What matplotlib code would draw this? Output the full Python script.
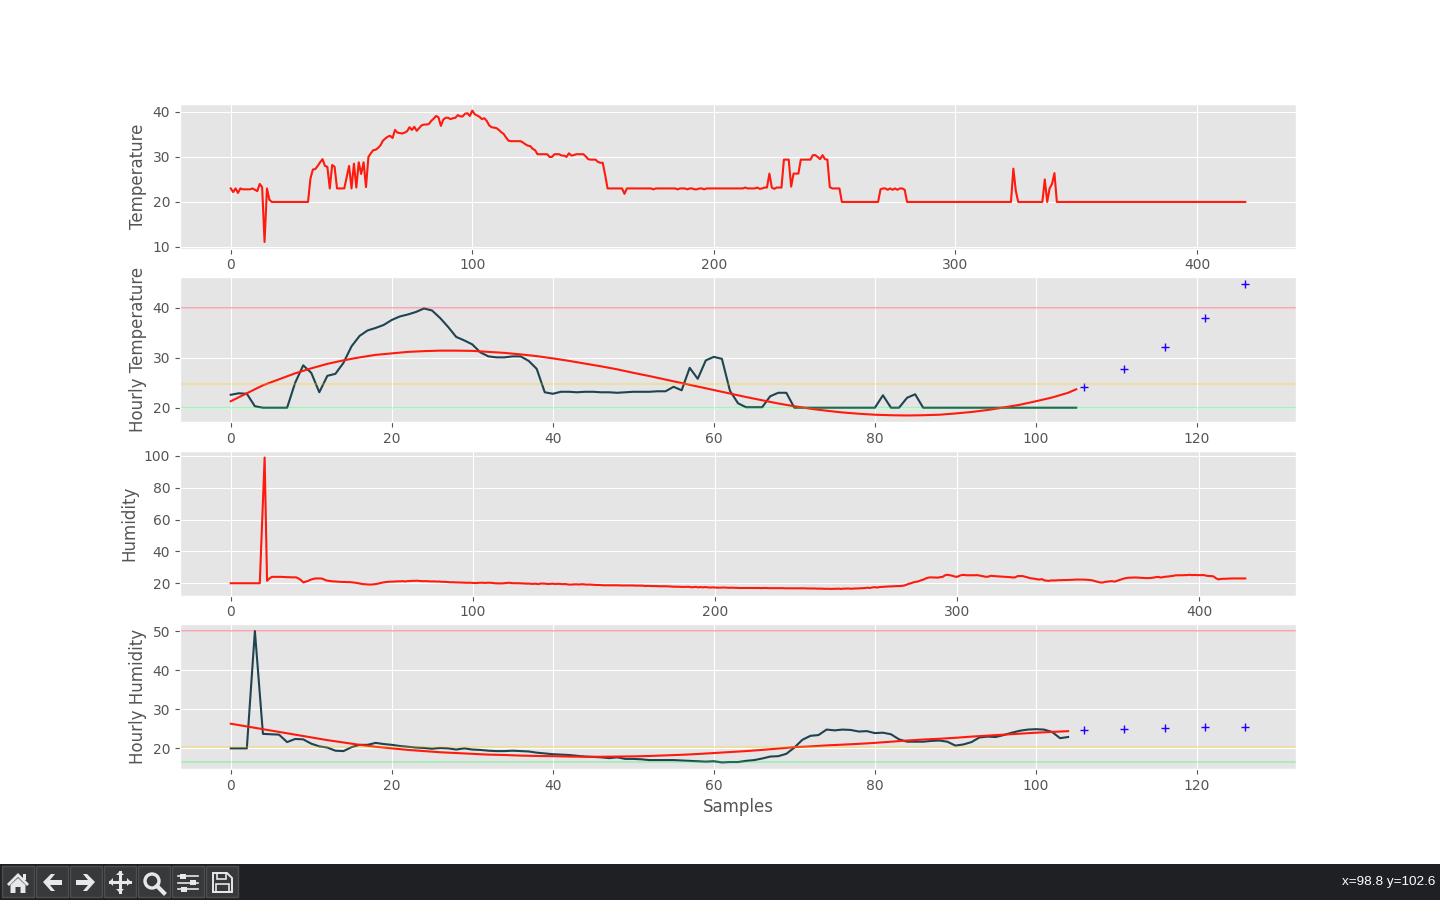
import matplotlib
matplotlib.use("Agg")
import matplotlib.pyplot as plt
from matplotlib.patches import Circle, Polygon, Rectangle

# data
temperature = [
    23,22.2,23,22,23,22.8,22.8,22.8,22.8,23,
    22.7,22.4,24,23.3,11.1,23,20.5,20,20,20,
    20,20,20,20,20,20,20,20,20,20,
    20,20,20,25.2,27.2,27.3,28,28.8,29.5,28,
    27.8,23,28.2,27.8,23,23,23,23,25.5,28,
    23,28.5,23.2,28.8,26.2,28.8,23.3,30,30.8,31.5,
    31.6,32,32.6,33.6,34.1,34.5,34.7,34.2,36,35.4,
    35.3,35.2,35.4,35.7,36.6,36,36.7,35.8,36.4,37,
    37.2,37.2,37.3,38,38.5,39.1,38.8,36.9,38.3,38.7,
    38.7,38.4,38.6,38.7,39.3,39,39,39.6,39.7,39.1,
    40.3,39.5,39.2,38.9,38.4,38.6,38,37,36.6,36.5,
    36.4,36,35.5,35.1,34.3,33.6,33.5,33.5,33.5,33.5,
    33.5,33.2,32.8,32.5,32.4,31.8,31.5,30.6,30.6,30.6,
    30.6,30.6,30,30,30.6,30.6,30.6,30.3,30.3,30,
    30.8,30.3,30.4,30.6,30.6,30.6,30.6,30.1,29.5,29.4,
    29.4,29.4,28.9,28.7,28.7,26,23,23,23,23,
    23,23,23,21.8,23,23,23,23,23,23,
    23,23,23,23,23,22.8,23,23,23,23,
    23,23,23,23,23,22.8,23,23,23,22.8,
    23,23,22.8,22.8,23,23,22.8,23,23,23,
    23,23,23,23,23,23,23,23,23,23,
    23,23,23,23.2,23,23,23,23,23.2,22.9,
    23,23.2,23.2,26.3,23.2,22.9,23.2,23.2,23.2,29.4,
    29.4,29.4,23.4,26.3,26.3,26.3,29.4,29.4,29.4,29.4,
    29.4,30.4,30.4,30,29.5,30.4,29.5,29.4,23.3,23,
    23,23,23,20,20,20,20,20,20,20,
    20,20,20,20,20,20,20,20,20,22.8,
    23,23,22.7,23,22.7,23,22.7,23,23,22.7,
    20,20,20,20,20,20,20,20,20,20,
    20,20,20,20,20,20,20,20,20,20,
    20,20,20,20,20,20,20,20,20,20,
    20,20,20,20,20,20,20,20,20,20,
    20,20,20,20,27.4,22.5,20,20,20,20,
    20,20,20,20,20,20,20,25,20,23,
    24,26.4,20,20,20,20,20,20,20,20,
    20,20,20,20,20,20,20,20,20,20,
    20,20,20,20,20,20,20,20,20,20,
    20,20,20,20,20,20,20,20,20,20,
    20,20,20,20,20,20,20,20,20,20,
    20,20,20,20,20,20,20,20,20,20,
    20,20,20,20,20,20,20,20,20,20,
    20,20,20,20,20,20,20,20,20,20,
    20,
]

humidity = [
    20,20,20,20,20,20,20,20,20,20,
    20,20,20,60,99,21.5,23,24,24,24,
    24,24,23.9,23.8,23.8,23.7,23.7,23.7,23,22,
    20.5,21,21.5,22.2,22.7,23,23,23,22.8,22,
    21.6,21.4,21.2,21.1,21,20.9,20.8,20.8,20.7,20.7,
    20.6,20.4,20.2,19.9,19.6,19.4,19.3,19.2,19.2,19.3,
    19.5,19.8,20.2,20.5,20.7,20.9,21,21,21.1,21.2,
    21.2,21.3,21.1,21.3,21.4,21.5,21.5,21.6,21.4,21.3,
    21.3,21.3,21.2,21.1,21.2,21,21.1,20.9,20.9,20.8,
    20.7,20.6,20.6,20.5,20.5,20.4,20.4,20.3,20.3,20.3,
    20.2,20.1,20.2,20.3,20.3,20.2,20.3,20.3,20.2,20,
    19.9,19.9,19.9,20,20.2,20.3,20.1,20,20,20,
    19.9,19.9,19.7,19.8,19.6,19.6,19.7,19.4,19.8,19.8,
    19.7,19.5,19.6,19.7,19.5,19.6,19.6,19.4,19.5,19.3,
    19.1,19.2,19.3,19.3,19.2,19.4,19.3,19.1,19.2,19.1,
    19,18.9,18.9,18.8,18.7,18.7,18.7,18.7,18.7,18.7,
    18.7,18.6,18.6,18.6,18.6,18.6,18.6,18.5,18.5,18.5,
    18.5,18.3,18.3,18.3,18.2,18.2,18.2,18.1,18.1,18.1,
    18.1,18,17.9,17.8,17.8,17.8,17.7,17.7,17.7,17.8,
    17.5,17.5,17.7,17.4,17.6,17.4,17.6,17.4,17.3,17.4,
    17.3,17.2,17.2,17.3,17.3,17.2,17.1,17.2,17.1,17.1,
    17,17,17,17,17,17,17,17,17,16.9,
    17,17,16.9,16.9,16.9,16.9,16.9,16.9,16.9,16.8,
    16.8,16.8,16.8,16.8,16.8,16.8,16.8,16.8,16.7,16.7,
    16.7,16.7,16.6,16.6,16.6,16.5,16.5,16.5,16.4,16.5,
    16.5,16.6,16.4,16.6,16.6,16.7,16.5,16.6,16.7,16.7,
    16.8,16.9,17,17.2,17,17.4,17.5,17.3,17.6,17.7,
    17.8,17.9,18,18,18.1,18.2,18.2,18.3,18.5,19,
    19.6,20,20.6,20.9,21.2,21.8,22.2,23,23.5,23.7,
    23.6,23.6,23.5,23.8,24,25,25.3,25,24.7,24.2,
    24,24.7,25.2,25.2,25,25,25,25,25.1,24.9,
    24.6,24.3,24,24.2,24.7,24.5,24.4,24.3,24.2,24.1,
    24,23.9,23.8,23.6,23.7,24.5,24.5,24.5,24.1,23.7,
    23.2,23,22.8,22.5,22.3,22.6,21.8,21.6,21.5,21.8,
    21.7,21.8,21.9,21.9,22,22,22.1,22.1,22.2,22.3,
    22.3,22.3,22.3,22.2,22.1,22,21.7,21.3,20.9,20.5,
    20.4,20.8,21,21.2,21.3,21,21.5,22,22.5,23,
    23.3,23.5,23.5,23.6,23.6,23.5,23.4,23.3,23.2,23.2,
    23.3,23.5,23.8,24,23.6,23.8,24.1,24.2,24.4,24.6,
    24.9,25,25,25,25.1,25.1,25.3,25.1,25.2,25.1,
    25.1,25.1,25.1,24.7,24.5,24.5,24.2,23,22.4,22.7,
    22.8,22.8,22.9,23,23,23,23,23,23,23,
]

hourly_temperature = [
    22.6,22.9,22.8,20.3,20,20,20,20,25,28.5,
    27,23.1,26.4,26.8,29,32.3,34.4,35.5,36,36.6,
    37.6,38.3,38.7,39.2,39.9,39.5,38,36.2,34.2,33.5,
    32.7,31.1,30.3,30.1,30.1,30.3,30.3,29.4,27.8,23.1,
    22.8,23.2,23.2,23.1,23.2,23.2,23.1,23.1,23,23.1,
    23.2,23.2,23.2,23.3,23.3,24.2,23.5,28,25.8,29.5,
    30.2,29.8,23.4,20.9,20.1,20.1,20.1,22.3,23,23,
    20,20,20,20,20,20,20,20,20,20,
    20,22.5,20,20,22,22.7,20,20,20,20,
    20,20,20,20,20,20,20,20,20,20,
    20,20,20,20,20,20,
]
hourly_temperature_fit_x = [
    0,2,4,6,8,10,12,14,16,18,20,22,24,26,28,30,32,34,36,38,40,42,44,46,48,50,52,
    54,56,58,60,62,64,66,68,70,72,74,76,78,80,82,84,86,88,90,92,94,96,98,100,102,104,105,
]
hourly_temperature_fit = [
    21.3,22.9,24.5,25.7,26.9,27.9,28.8,29.5,30.1,30.6,30.9,31.2,31.35,31.45,31.45,31.4,31.2,31,30.7,30.35,
    29.9,29.4,28.85,28.3,27.7,27,26.35,25.65,24.95,24.25,23.55,22.85,22.15,21.5,20.85,20.3,19.8,19.4,19.05,
    18.8,18.6,18.5,18.45,18.5,18.6,18.85,19.15,19.55,20.05,20.6,21.3,22.05,23,23.7,
]
forecast_x = [106,111,116,121,126]
hourly_temperature_forecast = [24.2,27.8,32.2,38,44.8]
temperature_levels = [40,24.8,20]

hourly_humidity = [
    20,20,20,50,23.7,23.6,23.5,21.6,22.4,22.3,
    21.2,20.5,20.2,19.4,19.3,20.3,20.9,20.9,21.4,21.1,
    20.9,20.6,20.4,20.2,20.1,19.9,20.1,20,19.7,20,
    19.7,19.6,19.4,19.3,19.3,19.4,19.3,19.2,18.9,18.7,
    18.5,18.4,18.3,18.1,17.9,17.8,17.7,17.5,17.7,17.3,
    17.3,17.2,17,17,17,17,16.9,16.8,16.7,16.6,
    16.7,16.4,16.5,16.5,16.8,17,17.4,17.9,18,18.6,
    20.2,22.2,23.2,23.4,24.8,24.6,24.8,24.7,24.3,24.4,
    23.9,24,23.6,22.3,21.7,21.7,21.7,21.9,22,21.7,
    20.7,21,21.6,22.8,23,22.9,23.4,24,24.5,24.8,
    24.9,24.8,24.2,22.6,22.9,
]
hourly_humidity_fit_x = [
    0,2,4,6,8,10,12,14,16,18,20,22,24,26,28,30,32,34,36,38,40,42,44,46,48,50,52,
    54,56,58,60,62,64,66,68,70,72,74,76,78,80,82,84,86,88,90,92,94,96,98,100,102,104,
]
hourly_humidity_fit = [
    26.3,25.6,24.9,24.2,23.5,22.8,22.1,21.5,20.9,20.4,20,19.6,19.3,19,18.8,18.6,18.4,18.3,18.15,18.05,18,
    17.9,17.85,17.85,17.9,17.95,18.05,18.2,18.35,18.55,18.8,19.05,19.3,19.6,19.95,20.3,20.5,20.75,20.95,
    21.15,21.4,21.7,22,22.25,22.45,22.7,23,23.25,23.5,23.75,24,24.2,24.4,
]
hourly_humidity_forecast = [24.6,24.9,25.2,25.4,25.4]
humidity_levels = [50,20.4,16.4]

level_colors = ["#ff0033", "#ffcc00", "#00ff44"]
line_red = "#ff1a0d"
line_dark = "#1f4350"

plt.style.use("ggplot")
plt.rcParams["font.family"] = "DejaVu Sans"

fig, axs = plt.subplots(4, 1, figsize=(14.4, 9), dpi=100)
fig.subplots_adjust(left=0.125, right=0.9, top=1 - 104 / 900, bottom=131 / 900)

axs[0].plot(temperature, color=line_red)
axs[0].set_ylabel("Temperature")

axs[1].plot(hourly_temperature, color=line_dark)
axs[1].plot(hourly_temperature_fit_x, hourly_temperature_fit, color=line_red)
axs[1].plot(forecast_x, hourly_temperature_forecast, "+", color="#2200ff")
for c, level in zip(level_colors, temperature_levels):
    axs[1].axhline(level, color=c, lw=1.5, alpha=0.25)
axs[1].set_ylabel("Hourly Temperature")

axs[2].plot(humidity, color=line_red)
axs[2].set_ylabel("Humidity")

axs[3].plot(hourly_humidity, color=line_dark)
axs[3].plot(hourly_humidity_fit_x, hourly_humidity_fit, color=line_red)
axs[3].plot(forecast_x, hourly_humidity_forecast, "+", color="#2200ff")
for c, level in zip(level_colors, humidity_levels):
    axs[3].axhline(level, color=c, lw=1.5, alpha=0.25)
axs[3].set_ylabel("Hourly Humidity")
axs[3].set_xlabel("Samples")

# toolbar along the bottom of the window
tb = fig.add_axes([0, 0, 1, 36 / 900])
tb.set_xlim(0, 1440)
tb.set_ylim(900, 864)
tb.axis("off")
tb.add_patch(Rectangle((0, 864), 1440, 36, fc="#1e2023", ec="none"))
ic = "#e8e8e8"

for i in range(7):
    tb.add_patch(Rectangle((2 + 34 * i, 866), 31.5, 31, fc="#37393b", ec="#4c4e50", lw=1))

# home
tb.add_patch(Polygon([(7, 884), (18, 873), (29, 884), (27, 886), (18, 877), (9, 886)], fc=ic, ec="none"))
tb.add_patch(Polygon([(10.5, 885), (18, 878), (25.5, 885), (25.5, 893), (20.5, 893), (20.5, 887), (15.5, 887), (15.5, 893), (10.5, 893)], fc=ic, ec="none"))
tb.add_patch(Rectangle((23, 874), 3, 6, fc=ic, ec="none"))
# back
tb.add_patch(Polygon([(43, 882), (51, 874), (55, 874), (50, 880), (62, 880), (62, 885), (50, 885), (55, 891), (51, 891)], fc=ic, ec="none"))
# forward
tb.add_patch(Polygon([(95, 882), (87, 874), (83, 874), (88, 880), (76, 880), (76, 885), (88, 885), (83, 891), (87, 891)], fc=ic, ec="none"))
# pan
tb.plot([110, 130], [882, 882], color=ic, lw=2.2)
tb.plot([120, 120], [872, 892], color=ic, lw=2.2)
tb.add_patch(Polygon([(109, 882), (113, 878), (113, 886)], fc=ic, ec="none"))
tb.add_patch(Polygon([(131, 882), (127, 878), (127, 886)], fc=ic, ec="none"))
tb.add_patch(Polygon([(120, 871), (116, 875), (124, 875)], fc=ic, ec="none"))
tb.add_patch(Polygon([(120, 893), (116, 889), (124, 889)], fc=ic, ec="none"))
# zoom
tb.add_patch(Circle((152, 881), 7, fc="none", ec=ic, lw=2.4))
tb.plot([157, 164], [886, 893], color=ic, lw=3)
# configure
for y, x in [(876, 183), (882.5, 193), (889, 184)]:
    tb.plot([178, 198], [y, y], color=ic, lw=1.2)
    tb.add_patch(Rectangle((x - 3, y - 2.5), 6, 5, fc=ic, ec="none"))
# save
tb.add_patch(Polygon([(213, 873), (227, 873), (232, 878), (232, 892), (213, 892)], fc="none", ec=ic, lw=1.4))
tb.add_patch(Rectangle((217, 873), 9, 6, fc="none", ec=ic, lw=1.2))
tb.add_patch(Rectangle((216, 884), 13, 8, fc="none", ec=ic, lw=1.2))

tb.text(1435, 882.5, "x=98.8 y=102.6", color="white", ha="right", va="center",
        fontsize=9.7, family="Liberation Sans")

fig.savefig("out.png", dpi=100)
